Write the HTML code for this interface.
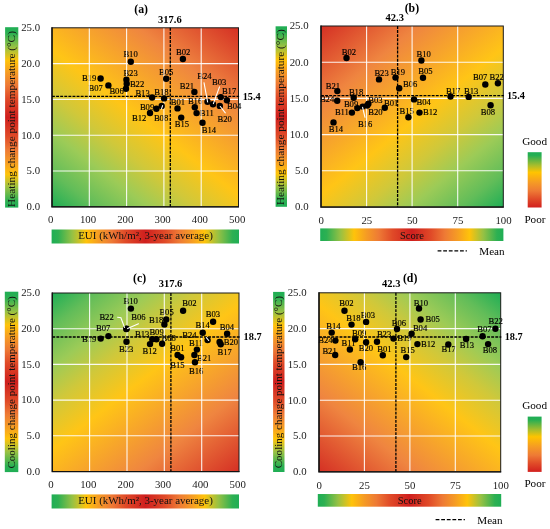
<!DOCTYPE html>
<html lang="en"><head><meta charset="utf-8"><title>Change point temperature vs EUI and Score</title>
<style>html,body{margin:0;padding:0;background:#fff;}body{width:550px;height:529px;overflow:hidden;}svg{display:block;}</style>
</head><body>
<svg width="550" height="529" viewBox="0 0 550 529" font-family='"Liberation Serif", serif'>
<defs>
<linearGradient id="ga" x1="0" y1="1" x2="0.9231" y2="-0.1378"><stop offset="0" stop-color="#1fae55"/><stop offset="0.1" stop-color="#62bd59"/><stop offset="0.22" stop-color="#9ccb57"/><stop offset="0.33" stop-color="#d0c83a"/><stop offset="0.465" stop-color="#ffc516"/><stop offset="0.73" stop-color="#ef8540"/><stop offset="1" stop-color="#d0211f"/></linearGradient>
<linearGradient id="gb" x1="1" y1="1" x2="0.0769" y2="-0.1378"><stop offset="0" stop-color="#1fae55"/><stop offset="0.1" stop-color="#62bd59"/><stop offset="0.22" stop-color="#9ccb57"/><stop offset="0.33" stop-color="#d0c83a"/><stop offset="0.465" stop-color="#ffc516"/><stop offset="0.73" stop-color="#ef8540"/><stop offset="1" stop-color="#d0211f"/></linearGradient>
<linearGradient id="gc" x1="0" y1="0" x2="0.9231" y2="1.1378"><stop offset="0" stop-color="#1fae55"/><stop offset="0.1" stop-color="#62bd59"/><stop offset="0.22" stop-color="#9ccb57"/><stop offset="0.33" stop-color="#d0c83a"/><stop offset="0.465" stop-color="#ffc516"/><stop offset="0.73" stop-color="#ef8540"/><stop offset="1" stop-color="#d0211f"/></linearGradient>
<linearGradient id="gd" x1="1" y1="0" x2="0.0769" y2="1.1378"><stop offset="0" stop-color="#1fae55"/><stop offset="0.1" stop-color="#62bd59"/><stop offset="0.22" stop-color="#9ccb57"/><stop offset="0.33" stop-color="#d0c83a"/><stop offset="0.465" stop-color="#ffc516"/><stop offset="0.73" stop-color="#ef8540"/><stop offset="1" stop-color="#d0211f"/></linearGradient>
<linearGradient id="mv" x1="0" y1="0" x2="0" y2="1"><stop offset="0.000" stop-color="#1fae55"/><stop offset="0.035" stop-color="#2db052"/><stop offset="0.110" stop-color="#96c144"/><stop offset="0.185" stop-color="#ffc30a"/><stop offset="0.255" stop-color="#f59a25"/><stop offset="0.320" stop-color="#ee7a35"/><stop offset="0.395" stop-color="#e04a28"/><stop offset="0.500" stop-color="#cf1f1e"/><stop offset="0.605" stop-color="#e04a28"/><stop offset="0.680" stop-color="#ee7a35"/><stop offset="0.745" stop-color="#f59a25"/><stop offset="0.815" stop-color="#ffc30a"/><stop offset="0.890" stop-color="#96c144"/><stop offset="0.965" stop-color="#2db052"/><stop offset="1.000" stop-color="#1fae55"/></linearGradient>
<linearGradient id="mh" x1="0" y1="0" x2="1" y2="0"><stop offset="0.000" stop-color="#1fae55"/><stop offset="0.035" stop-color="#2db052"/><stop offset="0.110" stop-color="#96c144"/><stop offset="0.185" stop-color="#ffc30a"/><stop offset="0.255" stop-color="#f59a25"/><stop offset="0.320" stop-color="#ee7a35"/><stop offset="0.395" stop-color="#e04a28"/><stop offset="0.500" stop-color="#cf1f1e"/><stop offset="0.605" stop-color="#e04a28"/><stop offset="0.680" stop-color="#ee7a35"/><stop offset="0.745" stop-color="#f59a25"/><stop offset="0.815" stop-color="#ffc30a"/><stop offset="0.890" stop-color="#96c144"/><stop offset="0.965" stop-color="#2db052"/><stop offset="1.000" stop-color="#1fae55"/></linearGradient>
<linearGradient id="lg" x1="0" y1="0" x2="0" y2="1"><stop offset="0" stop-color="#1fae55"/><stop offset="0.06" stop-color="#27af53"/><stop offset="0.24" stop-color="#a9bd2c"/><stop offset="0.365" stop-color="#ffc400"/><stop offset="0.55" stop-color="#f59a25"/><stop offset="0.7" stop-color="#ee7a35"/><stop offset="0.85" stop-color="#e04a28"/><stop offset="1" stop-color="#d2201e"/></linearGradient>
</defs>
<rect width="550" height="529" fill="#fff"/>
<g id="plot-a">
<rect x="5.1" y="27.2" width="13.2" height="180.4" fill="url(#mv)"/>
<text x="15.1" y="119.0" font-size="11.3" text-anchor="middle" transform="rotate(-90 15.1 119.0)" fill="#111">Heating change point temperature (°C)</text>
<rect x="51.6" y="229.5" width="187.4" height="14.0" fill="url(#mh)"/>
<text x="145.5" y="239.4" font-size="10.96" text-anchor="middle" fill="#111">EUI (kWh/m², 3-year average)</text>
<rect x="52.0" y="27.8" width="186.5" height="179.0" fill="url(#ga)"/>
<line x1="52.0" y1="63.6" x2="238.5" y2="63.6" stroke="#fff" stroke-width="1.1" opacity="0.92"/>
<line x1="52.0" y1="99.4" x2="238.5" y2="99.4" stroke="#fff" stroke-width="1.1" opacity="0.92"/>
<line x1="52.0" y1="135.2" x2="238.5" y2="135.2" stroke="#fff" stroke-width="1.1" opacity="0.92"/>
<line x1="52.0" y1="171.0" x2="238.5" y2="171.0" stroke="#fff" stroke-width="1.1" opacity="0.92"/>
<text x="123.4" y="57.1" font-size="8.6" fill="#000" stroke="#000" stroke-width="0.15">B10</text>
<text x="81.9" y="81.1" font-size="8.6" fill="#000" stroke="#000" stroke-width="0.15">B19</text>
<text x="88.5" y="90.9" font-size="8.6" fill="#000" stroke="#000" stroke-width="0.15">B07</text>
<text x="123.4" y="76.4" font-size="8.6" fill="#000" stroke="#000" stroke-width="0.15">B23</text>
<text x="129.9" y="86.6" font-size="8.6" fill="#000" stroke="#000" stroke-width="0.15">B22</text>
<text x="109.4" y="93.7" font-size="8.6" fill="#000" stroke="#000" stroke-width="0.15">B06</text>
<text x="159.0" y="74.9" font-size="8.6" fill="#000" stroke="#000" stroke-width="0.15">B05</text>
<text x="135.4" y="96.4" font-size="8.6" fill="#000" stroke="#000" stroke-width="0.15">B13</text>
<text x="154.3" y="95.1" font-size="8.6" fill="#000" stroke="#000" stroke-width="0.15">B18</text>
<text x="139.9" y="109.5" font-size="8.6" fill="#000" stroke="#000" stroke-width="0.15">B09</text>
<text x="132.1" y="121.1" font-size="8.6" fill="#000" stroke="#000" stroke-width="0.15">B12</text>
<text x="153.9" y="121.1" font-size="8.6" fill="#000" stroke="#000" stroke-width="0.15">B08</text>
<text x="176.1" y="55.3" font-size="8.6" fill="#000" stroke="#000" stroke-width="0.15">B02</text>
<text x="197.2" y="78.9" font-size="8.6" fill="#000" stroke="#000" stroke-width="0.15">B24</text>
<text x="212.1" y="84.8" font-size="8.6" fill="#000" stroke="#000" stroke-width="0.15">B03</text>
<text x="179.8" y="89.1" font-size="8.6" fill="#000" stroke="#000" stroke-width="0.15">B21</text>
<text x="221.9" y="94.2" font-size="8.6" fill="#000" stroke="#000" stroke-width="0.15">B17</text>
<text x="170.7" y="104.9" font-size="8.6" fill="#000" stroke="#000" stroke-width="0.15">B01</text>
<text x="187.9" y="104.2" font-size="8.6" fill="#000" stroke="#000" stroke-width="0.15">B16</text>
<text x="227.0" y="109.1" font-size="8.6" fill="#000" stroke="#000" stroke-width="0.15">B04</text>
<text x="199.8" y="116.4" font-size="8.6" fill="#000" stroke="#000" stroke-width="0.15">B11</text>
<text x="217.6" y="121.9" font-size="8.6" fill="#000" stroke="#000" stroke-width="0.15">B20</text>
<text x="174.7" y="126.9" font-size="8.6" fill="#000" stroke="#000" stroke-width="0.15">B15</text>
<text x="201.8" y="133.4" font-size="8.6" fill="#000" stroke="#000" stroke-width="0.15">B14</text>
<line x1="89.3" y1="27.8" x2="89.3" y2="206.8" stroke="#fff" stroke-width="1.1" opacity="0.92"/>
<line x1="126.6" y1="27.8" x2="126.6" y2="206.8" stroke="#fff" stroke-width="1.1" opacity="0.92"/>
<line x1="163.9" y1="27.8" x2="163.9" y2="206.8" stroke="#fff" stroke-width="1.1" opacity="0.92"/>
<line x1="201.2" y1="27.8" x2="201.2" y2="206.8" stroke="#fff" stroke-width="1.1" opacity="0.92"/>
<rect x="52.0" y="27.8" width="186.5" height="179.0" fill="none" stroke="#1a1a1a" stroke-width="1"/>
<path d="M52.0 27.3 V206.9 H239.0" fill="none" stroke="#111" stroke-width="1.4"/>
<text x="40.1" y="210.1" font-size="10.8" text-anchor="end" fill="#222">0.0</text>
<text x="40.1" y="174.3" font-size="10.8" text-anchor="end" fill="#222">5.0</text>
<text x="40.1" y="138.5" font-size="10.8" text-anchor="end" fill="#222">10.0</text>
<text x="40.1" y="102.7" font-size="10.8" text-anchor="end" fill="#222">15.0</text>
<text x="40.1" y="66.9" font-size="10.8" text-anchor="end" fill="#222">20.0</text>
<text x="40.1" y="31.1" font-size="10.8" text-anchor="end" fill="#222">25.0</text>
<text x="50.7" y="223.1" font-size="10.8" text-anchor="middle" fill="#222">0</text>
<text x="88.0" y="223.1" font-size="10.8" text-anchor="middle" fill="#222">100</text>
<text x="125.3" y="223.1" font-size="10.8" text-anchor="middle" fill="#222">200</text>
<text x="162.6" y="223.1" font-size="10.8" text-anchor="middle" fill="#222">300</text>
<text x="199.9" y="223.1" font-size="10.8" text-anchor="middle" fill="#222">400</text>
<text x="237.2" y="223.1" font-size="10.8" text-anchor="middle" fill="#222">500</text>
<line x1="170.3" y1="27.8" x2="170.3" y2="206.8" stroke="#000" stroke-width="1.3" stroke-dasharray="2.9 1.2"/>
<line x1="52.0" y1="96.4" x2="239.1" y2="96.4" stroke="#000" stroke-width="1.3" stroke-dasharray="2.9 1.2"/>
<circle cx="130.8" cy="61.7" r="3.2" fill="#000"/>
<circle cx="182.9" cy="59.0" r="3.2" fill="#000"/>
<circle cx="100.6" cy="78.5" r="3.2" fill="#000"/>
<circle cx="108.4" cy="85.4" r="3.2" fill="#000"/>
<circle cx="126.4" cy="79.8" r="3.2" fill="#000"/>
<circle cx="126.7" cy="83.8" r="3.2" fill="#000"/>
<circle cx="126.0" cy="88.8" r="3.2" fill="#000"/>
<circle cx="166.2" cy="78.7" r="3.2" fill="#000"/>
<circle cx="194.4" cy="91.9" r="3.2" fill="#000"/>
<circle cx="152.1" cy="97.5" r="3.2" fill="#000"/>
<circle cx="164.1" cy="98.4" r="3.2" fill="#000"/>
<circle cx="156.4" cy="108.8" r="3.2" fill="#000"/>
<circle cx="161.7" cy="105.9" r="3.2" fill="#000"/>
<circle cx="150.0" cy="113.0" r="3.2" fill="#000"/>
<circle cx="177.5" cy="108.4" r="3.2" fill="#000"/>
<circle cx="181.2" cy="117.6" r="3.2" fill="#000"/>
<circle cx="194.8" cy="107.3" r="3.2" fill="#000"/>
<circle cx="196.6" cy="113.1" r="3.2" fill="#000"/>
<circle cx="202.5" cy="122.8" r="3.2" fill="#000"/>
<circle cx="207.5" cy="101.8" r="3.2" fill="#000"/>
<circle cx="213.0" cy="104.2" r="3.2" fill="#000"/>
<circle cx="219.8" cy="105.9" r="3.2" fill="#000"/>
<circle cx="220.8" cy="97.1" r="3.2" fill="#000"/>
<circle cx="226.9" cy="100.2" r="3.2" fill="#000"/>
<path d="M204.0 82.7 L207.6 102.0" fill="none" stroke="#fff" stroke-width="1.1" stroke-linecap="round"/>
<path d="M219.5 86.9 L213.4 103.6" fill="none" stroke="#fff" stroke-width="1.1" stroke-linecap="round"/>
<path d="M220.3 106.5 L225.3 112.8" fill="none" stroke="#fff" stroke-width="1.1" stroke-linecap="round"/>
<path d="M162.6 105.6 L161.5 108.9" fill="none" stroke="#fff" stroke-width="1.1" stroke-linecap="round"/>
<text x="134.3" y="12.8" font-size="11.8" font-weight="bold" fill="#000">(a)</text>
<text x="158.0" y="22.7" font-size="10.5" font-weight="bold" fill="#000">317.6</text>
<text x="242.7" y="99.5" font-size="10.3" font-weight="bold" fill="#000">15.4</text>
</g>
<g id="plot-b">
<rect x="275.6" y="26.3" width="11.4" height="180.5" fill="url(#mv)"/>
<text x="284.1" y="117.2" font-size="11.3" text-anchor="middle" transform="rotate(-90 284.1 117.2)" fill="#111">Heating change point temperature (°C)</text>
<rect x="320.2" y="228.4" width="183.2" height="12.6" fill="url(#mh)"/>
<text x="412.0" y="239.0" font-size="10.5" text-anchor="middle" fill="#111">Score</text>
<rect x="321.0" y="26.0" width="182.3" height="181.0" fill="url(#gb)"/>
<line x1="321.0" y1="62.2" x2="503.3" y2="62.2" stroke="#fff" stroke-width="1.1" opacity="0.92"/>
<line x1="321.0" y1="98.4" x2="503.3" y2="98.4" stroke="#fff" stroke-width="1.1" opacity="0.92"/>
<line x1="321.0" y1="134.6" x2="503.3" y2="134.6" stroke="#fff" stroke-width="1.1" opacity="0.92"/>
<line x1="321.0" y1="170.8" x2="503.3" y2="170.8" stroke="#fff" stroke-width="1.1" opacity="0.92"/>
<text x="341.7" y="54.6" font-size="8.6" fill="#000" stroke="#000" stroke-width="0.15">B02</text>
<text x="374.4" y="76.4" font-size="8.6" fill="#000" stroke="#000" stroke-width="0.15">B23</text>
<text x="390.8" y="74.9" font-size="8.6" fill="#000" stroke="#000" stroke-width="0.15">B19</text>
<text x="403.1" y="87.3" font-size="8.6" fill="#000" stroke="#000" stroke-width="0.15">B06</text>
<text x="325.7" y="88.8" font-size="8.6" fill="#000" stroke="#000" stroke-width="0.15">B21</text>
<text x="348.9" y="94.9" font-size="8.6" fill="#000" stroke="#000" stroke-width="0.15">B18</text>
<text x="319.9" y="101.5" font-size="8.6" fill="#000" stroke="#000" stroke-width="0.15">B24</text>
<text x="343.9" y="106.9" font-size="8.6" fill="#000" stroke="#000" stroke-width="0.15">B09</text>
<text x="368.2" y="103.3" font-size="8.6" fill="#000" stroke="#000" stroke-width="0.15">B03</text>
<text x="384.0" y="105.5" font-size="8.6" fill="#000" stroke="#000" stroke-width="0.15">B01</text>
<text x="334.9" y="115.3" font-size="8.6" fill="#000" stroke="#000" stroke-width="0.15">B11</text>
<text x="368.2" y="114.7" font-size="8.6" fill="#000" stroke="#000" stroke-width="0.15">B20</text>
<text x="358.0" y="126.8" font-size="8.6" fill="#000" stroke="#000" stroke-width="0.15">B16</text>
<text x="399.6" y="113.5" font-size="8.6" fill="#000" stroke="#000" stroke-width="0.15">B15</text>
<text x="328.7" y="131.8" font-size="8.6" fill="#000" stroke="#000" stroke-width="0.15">B14</text>
<text x="416.6" y="56.8" font-size="8.6" fill="#000" stroke="#000" stroke-width="0.15">B10</text>
<text x="418.2" y="74.2" font-size="8.6" fill="#000" stroke="#000" stroke-width="0.15">B05</text>
<text x="445.9" y="93.5" font-size="8.6" fill="#000" stroke="#000" stroke-width="0.15">B17</text>
<text x="464.0" y="93.5" font-size="8.6" fill="#000" stroke="#000" stroke-width="0.15">B13</text>
<text x="473.1" y="80.0" font-size="8.6" fill="#000" stroke="#000" stroke-width="0.15">B07</text>
<text x="489.5" y="80.0" font-size="8.6" fill="#000" stroke="#000" stroke-width="0.15">B22</text>
<text x="416.6" y="105.1" font-size="8.6" fill="#000" stroke="#000" stroke-width="0.15">B04</text>
<text x="423.1" y="115.3" font-size="8.6" fill="#000" stroke="#000" stroke-width="0.15">B12</text>
<text x="480.8" y="115.3" font-size="8.6" fill="#000" stroke="#000" stroke-width="0.15">B08</text>
<line x1="366.6" y1="26.0" x2="366.6" y2="207.0" stroke="#fff" stroke-width="1.1" opacity="0.92"/>
<line x1="412.1" y1="26.0" x2="412.1" y2="207.0" stroke="#fff" stroke-width="1.1" opacity="0.92"/>
<line x1="457.7" y1="26.0" x2="457.7" y2="207.0" stroke="#fff" stroke-width="1.1" opacity="0.92"/>
<rect x="321.0" y="26.0" width="182.3" height="181.0" fill="none" stroke="#1a1a1a" stroke-width="1"/>
<path d="M321.0 25.5 V207.1 H503.8" fill="none" stroke="#111" stroke-width="1.4"/>
<text x="308.6" y="210.3" font-size="10.8" text-anchor="end" fill="#222">0.0</text>
<text x="308.6" y="174.1" font-size="10.8" text-anchor="end" fill="#222">5.0</text>
<text x="308.6" y="137.9" font-size="10.8" text-anchor="end" fill="#222">10.0</text>
<text x="308.6" y="101.7" font-size="10.8" text-anchor="end" fill="#222">15.0</text>
<text x="308.6" y="65.5" font-size="10.8" text-anchor="end" fill="#222">20.0</text>
<text x="308.6" y="29.3" font-size="10.8" text-anchor="end" fill="#222">25.0</text>
<text x="321.2" y="223.5" font-size="10.8" text-anchor="middle" fill="#222">0</text>
<text x="366.8" y="223.5" font-size="10.8" text-anchor="middle" fill="#222">25</text>
<text x="412.3" y="223.5" font-size="10.8" text-anchor="middle" fill="#222">50</text>
<text x="457.9" y="223.5" font-size="10.8" text-anchor="middle" fill="#222">75</text>
<text x="503.5" y="223.5" font-size="10.8" text-anchor="middle" fill="#222">100</text>
<line x1="397.6" y1="26.0" x2="397.6" y2="207.0" stroke="#000" stroke-width="1.3" stroke-dasharray="2.9 1.2"/>
<line x1="321.0" y1="95.6" x2="503.9" y2="95.6" stroke="#000" stroke-width="1.3" stroke-dasharray="2.9 1.2"/>
<circle cx="346.5" cy="58.0" r="3.2" fill="#000"/>
<circle cx="379.0" cy="79.4" r="3.2" fill="#000"/>
<circle cx="395.5" cy="77.6" r="3.2" fill="#000"/>
<circle cx="399.2" cy="88.2" r="3.2" fill="#000"/>
<circle cx="337.3" cy="91.1" r="3.2" fill="#000"/>
<circle cx="337.2" cy="100.7" r="3.2" fill="#000"/>
<circle cx="353.7" cy="97.7" r="3.2" fill="#000"/>
<circle cx="357.3" cy="108.1" r="3.2" fill="#000"/>
<circle cx="351.9" cy="112.6" r="3.2" fill="#000"/>
<circle cx="362.7" cy="106.6" r="3.2" fill="#000"/>
<circle cx="368.4" cy="103.7" r="3.2" fill="#000"/>
<circle cx="367.2" cy="105.5" r="3.2" fill="#000"/>
<circle cx="384.8" cy="107.8" r="3.2" fill="#000"/>
<circle cx="333.5" cy="122.4" r="3.2" fill="#000"/>
<circle cx="408.4" cy="117.2" r="3.2" fill="#000"/>
<circle cx="414.0" cy="99.4" r="3.2" fill="#000"/>
<circle cx="421.4" cy="60.5" r="3.2" fill="#000"/>
<circle cx="423.0" cy="77.8" r="3.2" fill="#000"/>
<circle cx="419.5" cy="112.6" r="3.2" fill="#000"/>
<circle cx="450.5" cy="96.5" r="3.2" fill="#000"/>
<circle cx="468.7" cy="96.9" r="3.2" fill="#000"/>
<circle cx="485.3" cy="84.5" r="3.2" fill="#000"/>
<circle cx="497.9" cy="83.3" r="3.2" fill="#000"/>
<circle cx="490.6" cy="105.3" r="3.2" fill="#000"/>
<path d="M362.6 107.3 L365.0 117.3" fill="none" stroke="#fff" stroke-width="1.1" stroke-linecap="round"/>
<text x="404.7" y="12.1" font-size="11.8" font-weight="bold" fill="#000">(b)</text>
<text x="385.5" y="20.9" font-size="10.5" font-weight="bold" fill="#000">42.3</text>
<text x="506.9" y="99.0" font-size="10.3" font-weight="bold" fill="#000">15.4</text>
</g>
<g id="plot-c">
<rect x="4.8" y="291.7" width="13.5" height="180.4" fill="url(#mv)"/>
<text x="15.1" y="382.4" font-size="11.04" text-anchor="middle" transform="rotate(-90 15.1 382.4)" fill="#111">Cooling change point temperature (°C)</text>
<rect x="51.6" y="494.4" width="187.4" height="14.1" fill="url(#mh)"/>
<text x="145.5" y="504.4" font-size="10.96" text-anchor="middle" fill="#111">EUI (kWh/m², 3-year average)</text>
<rect x="52.3" y="293.0" width="186.7" height="178.5" fill="url(#gc)"/>
<line x1="52.3" y1="328.7" x2="239.0" y2="328.7" stroke="#fff" stroke-width="1.1" opacity="0.92"/>
<line x1="52.3" y1="364.4" x2="239.0" y2="364.4" stroke="#fff" stroke-width="1.1" opacity="0.92"/>
<line x1="52.3" y1="400.1" x2="239.0" y2="400.1" stroke="#fff" stroke-width="1.1" opacity="0.92"/>
<line x1="52.3" y1="435.8" x2="239.0" y2="435.8" stroke="#fff" stroke-width="1.1" opacity="0.92"/>
<text x="123.6" y="303.6" font-size="8.6" fill="#000" stroke="#000" stroke-width="0.15">B10</text>
<text x="99.4" y="319.8" font-size="8.6" fill="#000" stroke="#000" stroke-width="0.15">B22</text>
<text x="131.2" y="320.1" font-size="8.6" fill="#000" stroke="#000" stroke-width="0.15">B06</text>
<text x="96.1" y="331.0" font-size="8.6" fill="#000" stroke="#000" stroke-width="0.15">B07</text>
<text x="81.9" y="341.6" font-size="8.6" fill="#000" stroke="#000" stroke-width="0.15">B19</text>
<text x="119.0" y="352.1" font-size="8.6" fill="#000" stroke="#000" stroke-width="0.15">B23</text>
<text x="159.4" y="315.4" font-size="8.6" fill="#000" stroke="#000" stroke-width="0.15">B05</text>
<text x="149.0" y="322.7" font-size="8.6" fill="#000" stroke="#000" stroke-width="0.15">B18</text>
<text x="135.0" y="336.9" font-size="8.6" fill="#000" stroke="#000" stroke-width="0.15">B13</text>
<text x="149.4" y="334.5" font-size="8.6" fill="#000" stroke="#000" stroke-width="0.15">B09</text>
<text x="161.6" y="340.9" font-size="8.6" fill="#000" stroke="#000" stroke-width="0.15">B08</text>
<text x="142.5" y="354.1" font-size="8.6" fill="#000" stroke="#000" stroke-width="0.15">B12</text>
<text x="182.3" y="305.8" font-size="8.6" fill="#000" stroke="#000" stroke-width="0.15">B02</text>
<text x="205.8" y="316.7" font-size="8.6" fill="#000" stroke="#000" stroke-width="0.15">B03</text>
<text x="195.4" y="328.1" font-size="8.6" fill="#000" stroke="#000" stroke-width="0.15">B14</text>
<text x="219.8" y="330.3" font-size="8.6" fill="#000" stroke="#000" stroke-width="0.15">B04</text>
<text x="182.3" y="337.6" font-size="8.6" fill="#000" stroke="#000" stroke-width="0.15">B24</text>
<text x="223.8" y="344.9" font-size="8.6" fill="#000" stroke="#000" stroke-width="0.15">B20</text>
<text x="217.6" y="354.7" font-size="8.6" fill="#000" stroke="#000" stroke-width="0.15">B17</text>
<text x="189.0" y="346.3" font-size="8.6" fill="#000" stroke="#000" stroke-width="0.15">B11</text>
<text x="170.3" y="351.2" font-size="8.6" fill="#000" stroke="#000" stroke-width="0.15">B01</text>
<text x="197.0" y="360.9" font-size="8.6" fill="#000" stroke="#000" stroke-width="0.15">B21</text>
<text x="170.3" y="367.6" font-size="8.6" fill="#000" stroke="#000" stroke-width="0.15">B15</text>
<text x="189.0" y="373.9" font-size="8.6" fill="#000" stroke="#000" stroke-width="0.15">B16</text>
<line x1="89.6" y1="293.0" x2="89.6" y2="471.5" stroke="#fff" stroke-width="1.1" opacity="0.92"/>
<line x1="127.0" y1="293.0" x2="127.0" y2="471.5" stroke="#fff" stroke-width="1.1" opacity="0.92"/>
<line x1="164.3" y1="293.0" x2="164.3" y2="471.5" stroke="#fff" stroke-width="1.1" opacity="0.92"/>
<line x1="201.7" y1="293.0" x2="201.7" y2="471.5" stroke="#fff" stroke-width="1.1" opacity="0.92"/>
<rect x="52.3" y="293.0" width="186.7" height="178.5" fill="none" stroke="#1a1a1a" stroke-width="1"/>
<path d="M52.3 292.5 V471.6 H239.5" fill="none" stroke="#111" stroke-width="1.4"/>
<text x="40.1" y="474.8" font-size="10.8" text-anchor="end" fill="#222">0.0</text>
<text x="40.1" y="439.1" font-size="10.8" text-anchor="end" fill="#222">5.0</text>
<text x="40.1" y="403.4" font-size="10.8" text-anchor="end" fill="#222">10.0</text>
<text x="40.1" y="367.7" font-size="10.8" text-anchor="end" fill="#222">15.0</text>
<text x="40.1" y="332.0" font-size="10.8" text-anchor="end" fill="#222">20.0</text>
<text x="40.1" y="296.3" font-size="10.8" text-anchor="end" fill="#222">25.0</text>
<text x="51.0" y="488.0" font-size="10.8" text-anchor="middle" fill="#222">0</text>
<text x="88.3" y="488.0" font-size="10.8" text-anchor="middle" fill="#222">100</text>
<text x="125.7" y="488.0" font-size="10.8" text-anchor="middle" fill="#222">200</text>
<text x="163.0" y="488.0" font-size="10.8" text-anchor="middle" fill="#222">300</text>
<text x="200.4" y="488.0" font-size="10.8" text-anchor="middle" fill="#222">400</text>
<text x="237.7" y="488.0" font-size="10.8" text-anchor="middle" fill="#222">500</text>
<line x1="170.9" y1="293.0" x2="170.9" y2="471.5" stroke="#000" stroke-width="1.3" stroke-dasharray="2.9 1.2"/>
<line x1="52.3" y1="337.0" x2="239.6" y2="337.0" stroke="#000" stroke-width="1.3" stroke-dasharray="2.9 1.2"/>
<circle cx="130.9" cy="308.6" r="3.2" fill="#000"/>
<circle cx="126.6" cy="328.7" r="3.2" fill="#000"/>
<circle cx="126.3" cy="329.0" r="3.2" fill="#000"/>
<circle cx="108.4" cy="336.1" r="3.2" fill="#000"/>
<circle cx="100.7" cy="338.6" r="3.2" fill="#000"/>
<circle cx="126.5" cy="341.7" r="3.2" fill="#000"/>
<circle cx="166.2" cy="319.5" r="3.2" fill="#000"/>
<circle cx="164.4" cy="324.5" r="3.2" fill="#000"/>
<circle cx="152.3" cy="339.3" r="3.2" fill="#000"/>
<circle cx="156.4" cy="339.3" r="3.2" fill="#000"/>
<circle cx="150.0" cy="344.1" r="3.2" fill="#000"/>
<circle cx="162.1" cy="343.7" r="3.2" fill="#000"/>
<circle cx="177.6" cy="355.0" r="3.2" fill="#000"/>
<circle cx="183.1" cy="310.8" r="3.2" fill="#000"/>
<circle cx="213.1" cy="321.8" r="3.2" fill="#000"/>
<circle cx="202.7" cy="332.7" r="3.2" fill="#000"/>
<circle cx="227.1" cy="333.7" r="3.2" fill="#000"/>
<circle cx="207.6" cy="340.1" r="3.2" fill="#000"/>
<circle cx="219.6" cy="341.9" r="3.2" fill="#000"/>
<circle cx="220.7" cy="344.3" r="3.2" fill="#000"/>
<circle cx="196.9" cy="349.6" r="3.2" fill="#000"/>
<circle cx="181.1" cy="357.2" r="3.2" fill="#000"/>
<circle cx="194.4" cy="355.0" r="3.2" fill="#000"/>
<circle cx="195.0" cy="362.2" r="3.2" fill="#000"/>
<path d="M117.6 317.2 L120.9 317.7 L124.5 327.4" fill="none" stroke="#fff" stroke-width="1.1" stroke-linecap="round"/>
<path d="M138.5 323.7 L127.6 328.6" fill="none" stroke="#fff" stroke-width="1.1" stroke-linecap="round"/>
<path d="M206.4 337.7 L208.7 340.5" fill="none" stroke="#fff" stroke-width="1.1" stroke-linecap="round"/>
<text x="133.0" y="282.0" font-size="11.8" font-weight="bold" fill="#000">(c)</text>
<text x="158.7" y="287.2" font-size="10.5" font-weight="bold" fill="#000">317.6</text>
<text x="243.6" y="340.1" font-size="10.3" font-weight="bold" fill="#000">18.7</text>
</g>
<g id="plot-d">
<rect x="273.1" y="291.9" width="11.4" height="180.1" fill="url(#mv)"/>
<text x="281.6" y="382.1" font-size="11.04" text-anchor="middle" transform="rotate(-90 281.6 382.1)" fill="#111">Cooling change point temperature (°C)</text>
<rect x="317.8" y="494.0" width="183.4" height="12.7" fill="url(#mh)"/>
<text x="409.7" y="504.0" font-size="10.5" text-anchor="middle" fill="#111">Score</text>
<rect x="319.0" y="292.8" width="181.7" height="179.0" fill="url(#gd)"/>
<line x1="319.0" y1="328.6" x2="500.7" y2="328.6" stroke="#fff" stroke-width="1.1" opacity="0.92"/>
<line x1="319.0" y1="364.4" x2="500.7" y2="364.4" stroke="#fff" stroke-width="1.1" opacity="0.92"/>
<line x1="319.0" y1="400.2" x2="500.7" y2="400.2" stroke="#fff" stroke-width="1.1" opacity="0.92"/>
<line x1="319.0" y1="436.0" x2="500.7" y2="436.0" stroke="#fff" stroke-width="1.1" opacity="0.92"/>
<text x="339.3" y="305.8" font-size="8.6" fill="#000" stroke="#000" stroke-width="0.15">B02</text>
<text x="346.2" y="320.5" font-size="8.6" fill="#000" stroke="#000" stroke-width="0.15">B18</text>
<text x="360.8" y="317.9" font-size="8.6" fill="#000" stroke="#000" stroke-width="0.15">B03</text>
<text x="326.2" y="328.7" font-size="8.6" fill="#000" stroke="#000" stroke-width="0.15">B14</text>
<text x="391.7" y="325.8" font-size="8.6" fill="#000" stroke="#000" stroke-width="0.15">B06</text>
<text x="352.0" y="336.1" font-size="8.6" fill="#000" stroke="#000" stroke-width="0.15">B09</text>
<text x="376.9" y="337.0" font-size="8.6" fill="#000" stroke="#000" stroke-width="0.15">B23</text>
<text x="318.2" y="343.0" font-size="8.6" fill="#000" stroke="#000" stroke-width="0.15">B24</text>
<text x="397.3" y="341.4" font-size="8.6" fill="#000" stroke="#000" stroke-width="0.15">B19</text>
<text x="341.5" y="345.9" font-size="8.6" fill="#000" stroke="#000" stroke-width="0.15">B11</text>
<text x="358.8" y="350.5" font-size="8.6" fill="#000" stroke="#000" stroke-width="0.15">B20</text>
<text x="322.4" y="354.1" font-size="8.6" fill="#000" stroke="#000" stroke-width="0.15">B21</text>
<text x="377.3" y="352.1" font-size="8.6" fill="#000" stroke="#000" stroke-width="0.15">B01</text>
<text x="400.6" y="353.2" font-size="8.6" fill="#000" stroke="#000" stroke-width="0.15">B15</text>
<text x="352.0" y="370.3" font-size="8.6" fill="#000" stroke="#000" stroke-width="0.15">B16</text>
<text x="413.7" y="305.8" font-size="8.6" fill="#000" stroke="#000" stroke-width="0.15">B10</text>
<text x="425.5" y="322.3" font-size="8.6" fill="#000" stroke="#000" stroke-width="0.15">B05</text>
<text x="412.9" y="331.0" font-size="8.6" fill="#000" stroke="#000" stroke-width="0.15">B04</text>
<text x="421.1" y="346.9" font-size="8.6" fill="#000" stroke="#000" stroke-width="0.15">B12</text>
<text x="441.5" y="352.1" font-size="8.6" fill="#000" stroke="#000" stroke-width="0.15">B17</text>
<text x="459.7" y="347.8" font-size="8.6" fill="#000" stroke="#000" stroke-width="0.15">B13</text>
<text x="477.3" y="331.8" font-size="8.6" fill="#000" stroke="#000" stroke-width="0.15">B07</text>
<text x="488.6" y="324.1" font-size="8.6" fill="#000" stroke="#000" stroke-width="0.15">B22</text>
<text x="482.8" y="353.2" font-size="8.6" fill="#000" stroke="#000" stroke-width="0.15">B08</text>
<line x1="364.4" y1="292.8" x2="364.4" y2="471.8" stroke="#fff" stroke-width="1.1" opacity="0.92"/>
<line x1="409.9" y1="292.8" x2="409.9" y2="471.8" stroke="#fff" stroke-width="1.1" opacity="0.92"/>
<line x1="455.3" y1="292.8" x2="455.3" y2="471.8" stroke="#fff" stroke-width="1.1" opacity="0.92"/>
<rect x="319.0" y="292.8" width="181.7" height="179.0" fill="none" stroke="#1a1a1a" stroke-width="1"/>
<path d="M319.0 292.3 V471.9 H501.2" fill="none" stroke="#111" stroke-width="1.4"/>
<text x="306.6" y="475.1" font-size="10.8" text-anchor="end" fill="#222">0.0</text>
<text x="306.6" y="439.3" font-size="10.8" text-anchor="end" fill="#222">5.0</text>
<text x="306.6" y="403.5" font-size="10.8" text-anchor="end" fill="#222">10.0</text>
<text x="306.6" y="367.7" font-size="10.8" text-anchor="end" fill="#222">15.0</text>
<text x="306.6" y="331.9" font-size="10.8" text-anchor="end" fill="#222">20.0</text>
<text x="306.6" y="296.1" font-size="10.8" text-anchor="end" fill="#222">25.0</text>
<text x="319.1" y="488.5" font-size="10.8" text-anchor="middle" fill="#222">0</text>
<text x="364.5" y="488.5" font-size="10.8" text-anchor="middle" fill="#222">25</text>
<text x="410.0" y="488.5" font-size="10.8" text-anchor="middle" fill="#222">50</text>
<text x="455.4" y="488.5" font-size="10.8" text-anchor="middle" fill="#222">75</text>
<text x="500.8" y="488.5" font-size="10.8" text-anchor="middle" fill="#222">100</text>
<line x1="395.9" y1="292.8" x2="395.9" y2="471.8" stroke="#000" stroke-width="1.3" stroke-dasharray="2.9 1.2"/>
<line x1="319.0" y1="337.0" x2="501.3" y2="337.0" stroke="#000" stroke-width="1.3" stroke-dasharray="2.9 1.2"/>
<circle cx="344.5" cy="310.8" r="3.2" fill="#000"/>
<circle cx="351.5" cy="324.6" r="3.2" fill="#000"/>
<circle cx="366.1" cy="321.9" r="3.2" fill="#000"/>
<circle cx="331.7" cy="332.6" r="3.2" fill="#000"/>
<circle cx="335.4" cy="340.6" r="3.2" fill="#000"/>
<circle cx="355.2" cy="339.2" r="3.2" fill="#000"/>
<circle cx="366.1" cy="342.3" r="3.2" fill="#000"/>
<circle cx="377.0" cy="341.7" r="3.2" fill="#000"/>
<circle cx="397.0" cy="329.0" r="3.2" fill="#000"/>
<circle cx="393.5" cy="338.6" r="3.2" fill="#000"/>
<circle cx="349.9" cy="349.5" r="3.2" fill="#000"/>
<circle cx="335.2" cy="355.0" r="3.2" fill="#000"/>
<circle cx="382.8" cy="355.2" r="3.2" fill="#000"/>
<circle cx="360.6" cy="362.3" r="3.2" fill="#000"/>
<circle cx="406.2" cy="357.1" r="3.2" fill="#000"/>
<circle cx="411.6" cy="333.7" r="3.2" fill="#000"/>
<circle cx="419.0" cy="308.5" r="3.2" fill="#000"/>
<circle cx="420.6" cy="319.5" r="3.2" fill="#000"/>
<circle cx="417.4" cy="344.1" r="3.2" fill="#000"/>
<circle cx="448.3" cy="344.5" r="3.2" fill="#000"/>
<circle cx="466.1" cy="339.0" r="3.2" fill="#000"/>
<circle cx="482.6" cy="336.3" r="3.2" fill="#000"/>
<circle cx="495.4" cy="328.8" r="3.2" fill="#000"/>
<circle cx="488.1" cy="344.1" r="3.2" fill="#000"/>
<text x="402.9" y="282.2" font-size="11.8" font-weight="bold" fill="#000">(d)</text>
<text x="382.0" y="286.6" font-size="10.5" font-weight="bold" fill="#000">42.3</text>
<text x="504.7" y="340.2" font-size="10.3" font-weight="bold" fill="#000">18.7</text>
</g>
<rect x="527.7" y="152.2" width="13.9" height="55.3" fill="url(#lg)"/>
<text x="522.2" y="144.7" font-size="11.2" fill="#000">Good</text>
<text x="524.4" y="222.6" font-size="11.2" fill="#000">Poor</text>
<line x1="437.6" y1="250.9" x2="466.9" y2="250.9" stroke="#000" stroke-width="1.2" stroke-dasharray="3.8 1.8"/>
<text x="479.3" y="254.7" font-size="11.1" fill="#000">Mean</text>
<rect x="527.7" y="416.6" width="13.9" height="55.3" fill="url(#lg)"/>
<text x="522.2" y="409.0" font-size="11.2" fill="#000">Good</text>
<text x="524.4" y="486.8" font-size="11.2" fill="#000">Poor</text>
<line x1="435.6" y1="519.7" x2="464.9" y2="519.7" stroke="#000" stroke-width="1.2" stroke-dasharray="3.8 1.8"/>
<text x="477.3" y="523.5" font-size="11.1" fill="#000">Mean</text>
</svg>
</body></html>
